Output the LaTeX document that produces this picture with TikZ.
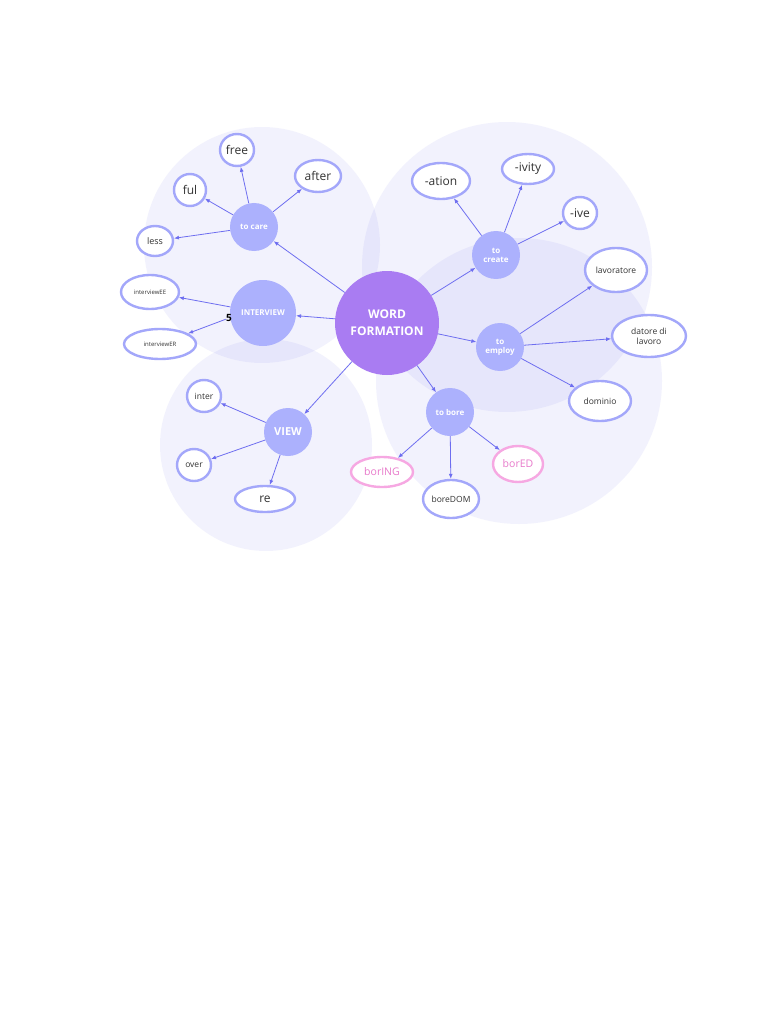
\documentclass[tikz,border=0pt]{standalone}
\usepackage{fontspec}
\setmainfont{Open Sans}
\usetikzlibrary{arrows.meta,shapes.geometric}
\definecolor{bgc}{HTML}{7878F0}
\definecolor{hubc}{HTML}{ACB1FD}
\definecolor{wfc}{HTML}{A97CF2}
\definecolor{edgec}{HTML}{6E6EF0}
\definecolor{leafc}{HTML}{A3A7FA}
\definecolor{pinkc}{HTML}{F6A8E2}
\definecolor{pinkt}{HTML}{E87ACB}
\definecolor{txtc}{HTML}{333333}
\tikzset{
  bgcirc/.style={fill=bgc, fill opacity=0.09, draw=none},
  hub/.style={circle, fill=hubc, text=white, inner sep=0pt, minimum size=48pt, font=\fontsize{8}{9}\selectfont\bfseries, align=center},
  wf/.style={circle, fill=wfc, text=white, inner sep=0pt, minimum size=104pt, font=\fontsize{12}{17}\selectfont\bfseries, align=center},
  leaf/.style={ellipse, draw=leafc, line width=2.4pt, fill=white, text=txtc, inner sep=0pt, align=center},
  pinkleaf/.style={leaf, draw=pinkc, text=pinkt},
  conn/.style={draw=edgec, line width=0.8pt, -{Latex[length=5pt,width=4pt]}},
}
\begin{document}
\begin{tikzpicture}[x=1pt,y=-1pt]
\useasboundingbox (0,0) rectangle (768,1024);
\fill[white] (0,0) rectangle (768,1024);
% background circles
\fill[bgcirc] (262,245) circle (118);
\fill[bgcirc] (507,267) circle (145);
\fill[bgcirc] (519,381) circle (143);
\fill[bgcirc] (266,445) circle (106);
% hubs
\node[wf] (wf) at (387,323) {WORD\\FORMATION};
\node[hub] (care) at (254,227) {to care};
\node[hub, minimum size=66pt] (intv) at (263,313) {INTERVIEW};
\node[hub, font=\fontsize{11}{12}\selectfont\bfseries] (view) at (288,432) {VIEW};
\node[hub] (create) at (496,255) {to\\create};
\node[hub] (employ) at (500,347) {to\\employ};
\node[hub] (bore) at (450,412) {to bore};
% leaves
\node[leaf, minimum width=34pt, minimum height=32pt, font=\fontsize{12}{13}\selectfont] (free) at (237,150) {free};
\node[leaf, minimum width=32pt, minimum height=32pt, font=\fontsize{12}{13}\selectfont] (ful) at (190,190) {ful};
\node[leaf, minimum width=46pt, minimum height=32pt, font=\fontsize{12}{13}\selectfont] (after) at (318,176) {after};
\node[leaf, minimum width=36pt, minimum height=30pt, font=\fontsize{9}{10}\selectfont] (less) at (155,241) {less};
\node[leaf, minimum width=58pt, minimum height=34pt, font=\fontsize{6}{7}\selectfont] (iee) at (150,292) {interviewEE};
\node[leaf, minimum width=72pt, minimum height=30pt, font=\fontsize{6}{7}\selectfont] (ier) at (160,344) {interviewER};
\node[leaf, minimum width=58pt, minimum height=36pt, font=\fontsize{12}{13}\selectfont] (ation) at (441,181) {-ation};
\node[leaf, minimum width=52pt, minimum height=30pt, font=\fontsize{12}{13}\selectfont] (ivity) at (528,169) {-ivity};
\node[leaf, minimum width=34pt, minimum height=32pt, font=\fontsize{12}{13}\selectfont] (ive) at (580,213) {-ive};
\node[leaf, minimum width=62pt, minimum height=44pt, font=\fontsize{8.5}{10}\selectfont] (lav) at (616,270) {lavoratore};
\node[leaf, minimum width=74pt, minimum height=42pt, font=\fontsize{8.5}{10}\selectfont] (dat) at (649,336) {datore di\\lavoro};
\node[leaf, minimum width=62pt, minimum height=40pt, font=\fontsize{8.5}{10}\selectfont] (dom) at (600,401) {dominio};
\node[leaf, minimum width=34pt, minimum height=32pt, font=\fontsize{8.5}{10}\selectfont] (inter) at (204,396) {inter};
\node[leaf, minimum width=34pt, minimum height=32pt, font=\fontsize{8.5}{10}\selectfont] (over) at (194,465) {over};
\node[leaf, minimum width=60pt, minimum height=26pt, font=\fontsize{12}{13}\selectfont] (re) at (265,499) {re};
\node[pinkleaf, minimum width=62pt, minimum height=30pt, font=\fontsize{10.5}{12}\selectfont] (boring) at (382,472) {borING};
\node[leaf, minimum width=56pt, minimum height=38pt, font=\fontsize{8.5}{10}\selectfont] (boredom) at (451,499) {boreDOM};
\node[pinkleaf, minimum width=50pt, minimum height=36pt, font=\fontsize{10.5}{12}\selectfont] (bored) at (518,464) {borED};
% stray glyph
\node[font=\fontsize{10}{11}\selectfont\bfseries, text=black, inner sep=0pt] (five) at (229,318) {5};
% connectors
\draw[conn] (wf) -- (care);
\draw[conn] (wf) -- (intv);
\draw[conn] (wf) -- (view);
\draw[conn] (wf) -- (create);
\draw[conn] (wf) -- (employ);
\draw[conn] (wf) -- (bore);
\draw[conn] (care) -- (free);
\draw[conn] (care) -- (ful);
\draw[conn] (care) -- (after);
\draw[conn] (care) -- (less);
\draw[conn] (intv) -- (iee);
\draw[conn] (five) -- (ier);
\draw[conn] (create) -- (ation);
\draw[conn] (create) -- (ivity);
\draw[conn] (create) -- (ive);
\draw[conn] (employ) -- (lav);
\draw[conn] (employ) -- (dat);
\draw[conn] (employ) -- (dom);
\draw[conn] (view) -- (inter);
\draw[conn] (view) -- (over);
\draw[conn] (view) -- (re);
\draw[conn] (bore) -- (boring);
\draw[conn] (bore) -- (boredom);
\draw[conn] (bore) -- (bored);
\end{tikzpicture}
\end{document}
